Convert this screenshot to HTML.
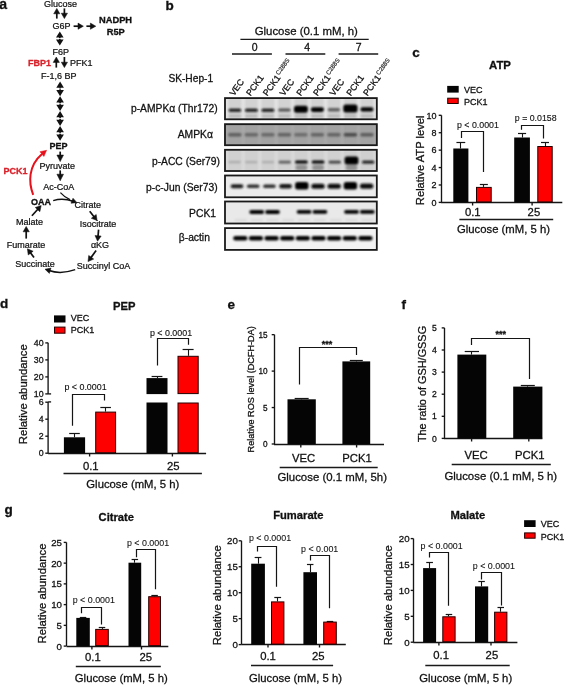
<!DOCTYPE html>
<html><head><meta charset="utf-8"><title>Figure</title>
<style>html,body{margin:0;padding:0;background:#fff;}svg{display:block;}
text{font-family:"Liberation Sans", Arial, sans-serif;}</style></head>
<body><svg width="565" height="685" viewBox="0 0 565 685">
<rect width="565" height="685" fill="#fff"/>
<defs><filter id="bl" x="-30%" y="-100%" width="160%" height="300%"><feGaussianBlur stdDeviation="0.85"/></filter><filter id="bl2" x="-50%" y="-100%" width="200%" height="300%"><feGaussianBlur stdDeviation="1.3"/></filter></defs>
<text x="-0.8" y="8.8" font-size="14" font-weight="bold" fill="#111" stroke="#111" stroke-width="0.3">a</text>
<text x="43.9" y="6.6" font-size="9" fill="#111" stroke="#111" stroke-width="0.22">Glucose</text>
<line x1="56.8" y1="18.6" x2="56.8" y2="12.72" stroke="#111" stroke-width="1.7"/>
<path d="M56.80,8.40 L59.90,13.80 L53.70,13.80 Z" fill="#111" stroke="#111" stroke-width="0.5" stroke-linejoin="round"/>
<line x1="64.4" y1="8.4" x2="64.4" y2="14.280000000000001" stroke="#111" stroke-width="1.7"/>
<path d="M64.40,18.60 L61.30,13.20 L67.50,13.20 Z" fill="#111" stroke="#111" stroke-width="0.5" stroke-linejoin="round"/>
<text x="52.4" y="28.7" font-size="9" fill="#111" stroke="#111" stroke-width="0.22">G6P</text>
<line x1="73.6" y1="26.2" x2="79.08000000000001" y2="26.2" stroke="#111" stroke-width="1.7"/>
<path d="M83.40,26.20 L78.00,29.30 L78.00,23.10 Z" fill="#111" stroke="#111" stroke-width="0.5" stroke-linejoin="round"/>
<line x1="86.4" y1="26.2" x2="91.47999999999999" y2="26.2" stroke="#111" stroke-width="1.7"/>
<path d="M95.80,26.20 L90.40,29.30 L90.40,23.10 Z" fill="#111" stroke="#111" stroke-width="0.5" stroke-linejoin="round"/>
<text x="99.0" y="23.4" font-size="9.3" font-weight="bold" fill="#111" stroke="#111" stroke-width="0.3">NADPH</text>
<text x="106.7" y="34.5" font-size="9.3" font-weight="bold" fill="#111" stroke="#111" stroke-width="0.3">R5P</text>
<path d="M59.8,31.6 L63.599999999999994,37.396 L56.0,37.396 Z" fill="#111"/>
<path d="M59.8,45.400000000000006 L63.599999999999994,39.604000000000006 L56.0,39.604000000000006 Z" fill="#111"/>
<line x1="59.8" y1="36.896" x2="59.8" y2="40.104000000000006" stroke="#111" stroke-width="1.6"/>
<line x1="56.0" y1="38.5" x2="63.599999999999994" y2="38.5" stroke="#fff" stroke-width="0.8"/>
<text x="52.4" y="54.5" font-size="9" fill="#111" stroke="#111" stroke-width="0.22">F6P</text>
<text x="51" y="66.4" font-size="9" font-weight="bold" text-anchor="end" fill="#d8232c" stroke="#d8232c" stroke-width="0.3">FBP1</text>
<line x1="56.3" y1="67.6" x2="56.3" y2="61.32" stroke="#111" stroke-width="1.7"/>
<path d="M56.30,57.00 L59.40,62.40 L53.20,62.40 Z" fill="#111" stroke="#111" stroke-width="0.5" stroke-linejoin="round"/>
<line x1="64.4" y1="57" x2="64.4" y2="63.279999999999994" stroke="#111" stroke-width="1.7"/>
<path d="M64.40,67.60 L61.30,62.20 L67.50,62.20 Z" fill="#111" stroke="#111" stroke-width="0.5" stroke-linejoin="round"/>
<text x="70" y="65.5" font-size="9" fill="#111" stroke="#111" stroke-width="0.22">PFK1</text>
<text x="40.9" y="79.3" font-size="9" fill="#111" stroke="#111" stroke-width="0.22">F-1,6 BP</text>
<path d="M60.1,81.4 L63.9,87.637 L56.300000000000004,87.637 Z" fill="#111"/>
<path d="M60.1,96.25 L63.9,90.013 L56.300000000000004,90.013 Z" fill="#111"/>
<line x1="60.1" y1="87.137" x2="60.1" y2="90.513" stroke="#111" stroke-width="1.6"/>
<line x1="56.300000000000004" y1="88.825" x2="63.9" y2="88.825" stroke="#fff" stroke-width="0.8"/>
<path d="M60.1,96.25 L63.9,102.487 L56.300000000000004,102.487 Z" fill="#111"/>
<path d="M60.1,111.1 L63.9,104.863 L56.300000000000004,104.863 Z" fill="#111"/>
<line x1="60.1" y1="101.987" x2="60.1" y2="105.363" stroke="#111" stroke-width="1.6"/>
<line x1="56.300000000000004" y1="103.675" x2="63.9" y2="103.675" stroke="#fff" stroke-width="0.8"/>
<path d="M60.1,111.10000000000001 L63.9,117.337 L56.300000000000004,117.337 Z" fill="#111"/>
<path d="M60.1,125.95 L63.9,119.71300000000001 L56.300000000000004,119.71300000000001 Z" fill="#111"/>
<line x1="60.1" y1="116.837" x2="60.1" y2="120.21300000000001" stroke="#111" stroke-width="1.6"/>
<line x1="56.300000000000004" y1="118.525" x2="63.9" y2="118.525" stroke="#fff" stroke-width="0.8"/>
<path d="M60.1,125.95 L63.9,132.187 L56.300000000000004,132.187 Z" fill="#111"/>
<path d="M60.1,140.8 L63.9,134.56300000000002 L56.300000000000004,134.56300000000002 Z" fill="#111"/>
<line x1="60.1" y1="131.687" x2="60.1" y2="135.06300000000002" stroke="#111" stroke-width="1.6"/>
<line x1="56.300000000000004" y1="133.375" x2="63.9" y2="133.375" stroke="#fff" stroke-width="0.8"/>
<text x="49.6" y="149.2" font-size="9" font-weight="bold" fill="#111" stroke="#111" stroke-width="0.3">PEP</text>
<line x1="60.2" y1="151.6" x2="60.2" y2="156.32" stroke="#111" stroke-width="1.7"/>
<path d="M60.20,161.60 L56.90,155.00 L63.50,155.00 Z" fill="#111" stroke="#111" stroke-width="0.5" stroke-linejoin="round"/>
<text x="39.6" y="168.6" font-size="9" fill="#111" stroke="#111" stroke-width="0.22">Pyruvate</text>
<line x1="60.2" y1="170.4" x2="60.2" y2="175.52" stroke="#111" stroke-width="1.7"/>
<path d="M60.20,180.80 L56.90,174.20 L63.50,174.20 Z" fill="#111" stroke="#111" stroke-width="0.5" stroke-linejoin="round"/>
<text x="43.2" y="189.6" font-size="9" fill="#111" stroke="#111" stroke-width="0.22">Ac-CoA</text>
<path d="M33.2,194.8 C28.5,183 28,166 42.0,154.0" stroke="#e8101a" stroke-width="2.0" fill="none"/>
<path d="M46.60,150.30 L43.89,156.48 L39.99,151.67 Z" fill="#e8101a" stroke="#e8101a" stroke-width="0.5" stroke-linejoin="round"/>
<text x="3.5" y="174.3" font-size="9" font-weight="bold" fill="#d8232c" stroke="#d8232c" stroke-width="0.3">PCK1</text>
<text x="30.9" y="204.8" font-size="9" font-weight="bold" fill="#111" stroke="#111" stroke-width="0.3">OAA</text>
<path d="M53.2,200.6 C59,198.8 66,198.8 73,201.2" stroke="#111" stroke-width="1.5" fill="none"/>
<path d="M77.00,202.70 L70.98,203.20 L72.99,198.19 Z" fill="#111" stroke="#111" stroke-width="0.5" stroke-linejoin="round"/>
<path d="M60.4,192.6 C63,195.5 66,198 70,199.6" stroke="#111" stroke-width="1.2" fill="none"/>
<text x="74.6" y="208.4" font-size="9" fill="#111" stroke="#111" stroke-width="0.22">Citrate</text>
<line x1="89.7" y1="211.2" x2="94.42782250064894" y2="217.2056123656892" stroke="#111" stroke-width="1.7"/>
<path d="M97.10,220.60 L91.32,218.27 L96.20,214.44 Z" fill="#111" stroke="#111" stroke-width="0.5" stroke-linejoin="round"/>
<text x="79.8" y="227.1" font-size="9" fill="#111" stroke="#111" stroke-width="0.22">Isocitrate</text>
<line x1="98.6" y1="229.6" x2="97.97103763810101" y2="236.89596339802824" stroke="#111" stroke-width="1.7"/>
<path d="M97.60,241.20 L94.98,235.55 L101.15,236.09 Z" fill="#111" stroke="#111" stroke-width="0.5" stroke-linejoin="round"/>
<text x="90.9" y="248.0" font-size="9" fill="#111" stroke="#111" stroke-width="0.22">αKG</text>
<line x1="96.1" y1="250.6" x2="90.56154098628643" y2="258.12136409269743" stroke="#111" stroke-width="1.7"/>
<path d="M88.00,261.60 L88.71,255.41 L93.70,259.09 Z" fill="#111" stroke="#111" stroke-width="0.5" stroke-linejoin="round"/>
<text x="76.7" y="268.6" font-size="9" fill="#111" stroke="#111" stroke-width="0.22">Succinyl CoA</text>
<path d="M75.2,269.6 C66,272.8 56,273 49,270.5" stroke="#111" stroke-width="1.5" fill="none"/>
<path d="M45.00,269.20 L50.98,268.07 L49.37,273.43 Z" fill="#111" stroke="#111" stroke-width="0.5" stroke-linejoin="round"/>
<text x="15.3" y="266.5" font-size="9" fill="#111" stroke="#111" stroke-width="0.22">Succinate</text>
<line x1="34.0" y1="257.4" x2="30.030097151800703" y2="252.22709628871002" stroke="#111" stroke-width="1.7"/>
<path d="M27.40,248.80 L33.15,251.20 L28.23,254.97 Z" fill="#111" stroke="#111" stroke-width="0.5" stroke-linejoin="round"/>
<text x="6.8" y="247.9" font-size="9" fill="#111" stroke="#111" stroke-width="0.22">Fumarate</text>
<line x1="26.2" y1="238.6" x2="26.2" y2="230.72" stroke="#111" stroke-width="1.7"/>
<path d="M26.20,226.40 L29.30,231.80 L23.10,231.80 Z" fill="#111" stroke="#111" stroke-width="0.5" stroke-linejoin="round"/>
<text x="15.9" y="224.8" font-size="9" fill="#111" stroke="#111" stroke-width="0.22">Malate</text>
<line x1="31.9" y1="215.8" x2="38.289383334797854" y2="208.79228924570558" stroke="#111" stroke-width="1.7"/>
<path d="M41.20,205.60 L39.85,211.68 L35.27,207.50 Z" fill="#111" stroke="#111" stroke-width="0.5" stroke-linejoin="round"/>
<text x="165.4" y="10.1" font-size="13.5" font-weight="bold" fill="#111" stroke="#111" stroke-width="0.3">b</text>
<text x="254.7" y="35.0" font-size="11.4" fill="#111" stroke="#111" stroke-width="0.28">Glucose (0.1 mM, h)</text>
<line x1="240.4" y1="39.4" x2="368.7" y2="39.4" stroke="#1a1a1a" stroke-width="1.4"/>
<text x="254.7" y="51.0" font-size="10.5" text-anchor="middle" fill="#111" stroke="#111" stroke-width="0.28">0</text>
<text x="307.2" y="51.0" font-size="10.5" text-anchor="middle" fill="#111" stroke="#111" stroke-width="0.28">4</text>
<text x="358.7" y="51.0" font-size="10.5" text-anchor="middle" fill="#111" stroke="#111" stroke-width="0.28">7</text>
<line x1="232.0" y1="54.0" x2="271.9" y2="54.0" stroke="#1a1a1a" stroke-width="1.4"/>
<line x1="285.5" y1="54.0" x2="325.3" y2="54.0" stroke="#1a1a1a" stroke-width="1.4"/>
<line x1="338.6" y1="54.0" x2="378.2" y2="54.0" stroke="#1a1a1a" stroke-width="1.4"/>
<text x="168.4" y="82.4" font-size="10.2" fill="#111" stroke="#111" stroke-width="0.28">SK-Hep-1</text>
<text transform="translate(233.90,96.4) rotate(-54)" font-size="8.8" fill="#111" stroke="#111" stroke-width="0.28">VEC</text>
<text transform="translate(250.60,96.4) rotate(-54)" font-size="8.8" fill="#111" stroke="#111" stroke-width="0.28">PCK1</text>
<text transform="translate(267.30,96.4) rotate(-54)" font-size="8.8" fill="#111" stroke="#111" stroke-width="0.28">PCK1<tspan font-size="6.2" dy="-3.0" dx="0.8" stroke-width="0.15">C288S</tspan></text>
<text transform="translate(284.00,96.4) rotate(-54)" font-size="8.8" fill="#111" stroke="#111" stroke-width="0.28">VEC</text>
<text transform="translate(300.70,96.4) rotate(-54)" font-size="8.8" fill="#111" stroke="#111" stroke-width="0.28">PCK1</text>
<text transform="translate(317.40,96.4) rotate(-54)" font-size="8.8" fill="#111" stroke="#111" stroke-width="0.28">PCK1<tspan font-size="6.2" dy="-3.0" dx="0.8" stroke-width="0.15">C288S</tspan></text>
<text transform="translate(334.10,96.4) rotate(-54)" font-size="8.8" fill="#111" stroke="#111" stroke-width="0.28">VEC</text>
<text transform="translate(350.80,96.4) rotate(-54)" font-size="8.8" fill="#111" stroke="#111" stroke-width="0.28">PCK1</text>
<text transform="translate(367.50,96.4) rotate(-54)" font-size="8.8" fill="#111" stroke="#111" stroke-width="0.28">PCK1<tspan font-size="6.2" dy="-3.0" dx="0.8" stroke-width="0.15">C288S</tspan></text>
<svg x="224.1" y="97.2" width="153.6" height="23.0" viewBox="224.1 97.2 153.6 23.0" overflow="hidden">
<rect x="224.10" y="97.20" width="153.60" height="23.00" fill="#d2d2d2"/>
<rect x="224.85" y="97.20" width="3.6" height="23.00" fill="#e8e8e8" opacity="0.8" filter="url(#bl2)"/>
<rect x="241.35" y="97.20" width="3.6" height="23.00" fill="#e8e8e8" opacity="0.8" filter="url(#bl2)"/>
<rect x="257.85" y="97.20" width="3.6" height="23.00" fill="#e8e8e8" opacity="0.8" filter="url(#bl2)"/>
<rect x="274.35" y="97.20" width="3.6" height="23.00" fill="#e8e8e8" opacity="0.8" filter="url(#bl2)"/>
<rect x="290.85" y="97.20" width="3.6" height="23.00" fill="#e8e8e8" opacity="0.8" filter="url(#bl2)"/>
<rect x="307.35" y="97.20" width="3.6" height="23.00" fill="#e8e8e8" opacity="0.8" filter="url(#bl2)"/>
<rect x="323.85" y="97.20" width="3.6" height="23.00" fill="#e8e8e8" opacity="0.8" filter="url(#bl2)"/>
<rect x="340.35" y="97.20" width="3.6" height="23.00" fill="#e8e8e8" opacity="0.8" filter="url(#bl2)"/>
<rect x="356.85" y="97.20" width="3.6" height="23.00" fill="#e8e8e8" opacity="0.8" filter="url(#bl2)"/>
<rect x="373.35" y="97.20" width="3.6" height="23.00" fill="#e8e8e8" opacity="0.8" filter="url(#bl2)"/>
<rect x="228.90" y="115.00" width="12.00" height="2.00" rx="1.00" fill="rgb(175,175,175)" filter="url(#bl)"/>
<rect x="245.40" y="115.00" width="12.00" height="2.00" rx="1.00" fill="rgb(175,175,175)" filter="url(#bl)"/>
<rect x="261.90" y="115.00" width="12.00" height="2.00" rx="1.00" fill="rgb(175,175,175)" filter="url(#bl)"/>
<rect x="278.40" y="115.00" width="12.00" height="2.00" rx="1.00" fill="rgb(175,175,175)" filter="url(#bl)"/>
<rect x="294.90" y="115.00" width="12.00" height="2.00" rx="1.00" fill="rgb(175,175,175)" filter="url(#bl)"/>
<rect x="311.40" y="115.00" width="12.00" height="2.00" rx="1.00" fill="rgb(175,175,175)" filter="url(#bl)"/>
<rect x="327.90" y="115.00" width="12.00" height="2.00" rx="1.00" fill="rgb(175,175,175)" filter="url(#bl)"/>
<rect x="344.40" y="115.00" width="12.00" height="2.00" rx="1.00" fill="rgb(175,175,175)" filter="url(#bl)"/>
<rect x="360.90" y="115.00" width="12.00" height="2.00" rx="1.00" fill="rgb(175,175,175)" filter="url(#bl)"/>
<rect x="228.70" y="108.80" width="12.40" height="3.00" rx="1.50" fill="rgb(15,15,15)" filter="url(#bl)"/>
<rect x="245.00" y="108.70" width="12.80" height="3.00" rx="1.50" fill="rgb(10,10,10)" filter="url(#bl)"/>
<rect x="261.50" y="108.70" width="12.80" height="3.00" rx="1.50" fill="rgb(15,15,15)" filter="url(#bl)"/>
<rect x="278.20" y="108.40" width="12.40" height="3.20" rx="1.60" fill="rgb(80,80,80)" filter="url(#bl)"/>
<rect x="294.00" y="105.70" width="13.80" height="7.00" rx="2.50" fill="rgb(0,0,0)" filter="url(#bl)"/>
<rect x="310.80" y="107.30" width="13.20" height="4.60" rx="2.30" fill="rgb(0,0,0)" filter="url(#bl)"/>
<rect x="327.70" y="108.10" width="12.40" height="3.40" rx="1.70" fill="rgb(95,95,95)" filter="url(#bl)"/>
<rect x="343.30" y="104.40" width="14.20" height="8.00" rx="2.50" fill="rgb(0,0,0)" filter="url(#bl)"/>
<rect x="360.40" y="107.30" width="13.00" height="4.20" rx="2.10" fill="rgb(5,5,5)" filter="url(#bl)"/>
</svg>
<rect x="225.00" y="98.10" width="151.80" height="21.20" fill="none" stroke="#1a1a1a" stroke-width="1.8"/>
<text x="217.6" y="112.2" font-size="10.3" text-anchor="end" fill="#111" stroke="#111" stroke-width="0.28">p-AMPKα (Thr172)</text>
<svg x="224.1" y="123.3" width="153.6" height="22.8" viewBox="224.1 123.3 153.6 22.8" overflow="hidden">
<rect x="224.10" y="123.30" width="153.60" height="22.80" fill="#a2a2a2"/>
<rect x="224.85" y="123.30" width="3.6" height="22.80" fill="#acacac" opacity="0.6" filter="url(#bl2)"/>
<rect x="241.35" y="123.30" width="3.6" height="22.80" fill="#acacac" opacity="0.6" filter="url(#bl2)"/>
<rect x="257.85" y="123.30" width="3.6" height="22.80" fill="#acacac" opacity="0.6" filter="url(#bl2)"/>
<rect x="274.35" y="123.30" width="3.6" height="22.80" fill="#acacac" opacity="0.6" filter="url(#bl2)"/>
<rect x="290.85" y="123.30" width="3.6" height="22.80" fill="#acacac" opacity="0.6" filter="url(#bl2)"/>
<rect x="307.35" y="123.30" width="3.6" height="22.80" fill="#acacac" opacity="0.6" filter="url(#bl2)"/>
<rect x="323.85" y="123.30" width="3.6" height="22.80" fill="#acacac" opacity="0.6" filter="url(#bl2)"/>
<rect x="340.35" y="123.30" width="3.6" height="22.80" fill="#acacac" opacity="0.6" filter="url(#bl2)"/>
<rect x="356.85" y="123.30" width="3.6" height="22.80" fill="#acacac" opacity="0.6" filter="url(#bl2)"/>
<rect x="373.35" y="123.30" width="3.6" height="22.80" fill="#acacac" opacity="0.6" filter="url(#bl2)"/>
<rect x="228.15" y="133.10" width="13.50" height="3.40" rx="1.70" fill="rgb(95,95,95)" filter="url(#bl)"/>
<rect x="244.65" y="133.10" width="13.50" height="3.40" rx="1.70" fill="rgb(102,102,102)" filter="url(#bl)"/>
<rect x="261.15" y="133.10" width="13.50" height="3.40" rx="1.70" fill="rgb(104,104,104)" filter="url(#bl)"/>
<rect x="277.65" y="133.10" width="13.50" height="3.40" rx="1.70" fill="rgb(98,98,98)" filter="url(#bl)"/>
<rect x="294.15" y="133.10" width="13.50" height="3.40" rx="1.70" fill="rgb(108,108,108)" filter="url(#bl)"/>
<rect x="310.65" y="133.10" width="13.50" height="3.40" rx="1.70" fill="rgb(100,100,100)" filter="url(#bl)"/>
<rect x="327.15" y="133.10" width="13.50" height="3.40" rx="1.70" fill="rgb(98,98,98)" filter="url(#bl)"/>
<rect x="343.65" y="133.10" width="13.50" height="3.40" rx="1.70" fill="rgb(72,72,72)" filter="url(#bl)"/>
<rect x="360.15" y="133.10" width="13.50" height="3.40" rx="1.70" fill="rgb(92,92,92)" filter="url(#bl)"/>
</svg>
<rect x="225.00" y="124.20" width="151.80" height="21.00" fill="none" stroke="#1a1a1a" stroke-width="1.8"/>
<text x="212.9" y="137.8" font-size="10.3" text-anchor="end" fill="#111" stroke="#111" stroke-width="0.28">AMPKα</text>
<svg x="224.1" y="148.9" width="153.6" height="23.0" viewBox="224.1 148.9 153.6 23.0" overflow="hidden">
<rect x="224.10" y="148.90" width="153.60" height="23.00" fill="#d0d0d0"/>
<rect x="224.85" y="148.90" width="3.6" height="23.00" fill="#dddddd" opacity="0.7" filter="url(#bl2)"/>
<rect x="241.35" y="148.90" width="3.6" height="23.00" fill="#dddddd" opacity="0.7" filter="url(#bl2)"/>
<rect x="257.85" y="148.90" width="3.6" height="23.00" fill="#dddddd" opacity="0.7" filter="url(#bl2)"/>
<rect x="274.35" y="148.90" width="3.6" height="23.00" fill="#dddddd" opacity="0.7" filter="url(#bl2)"/>
<rect x="290.85" y="148.90" width="3.6" height="23.00" fill="#dddddd" opacity="0.7" filter="url(#bl2)"/>
<rect x="307.35" y="148.90" width="3.6" height="23.00" fill="#dddddd" opacity="0.7" filter="url(#bl2)"/>
<rect x="323.85" y="148.90" width="3.6" height="23.00" fill="#dddddd" opacity="0.7" filter="url(#bl2)"/>
<rect x="340.35" y="148.90" width="3.6" height="23.00" fill="#dddddd" opacity="0.7" filter="url(#bl2)"/>
<rect x="356.85" y="148.90" width="3.6" height="23.00" fill="#dddddd" opacity="0.7" filter="url(#bl2)"/>
<rect x="373.35" y="148.90" width="3.6" height="23.00" fill="#dddddd" opacity="0.7" filter="url(#bl2)"/>
<rect x="295.65" y="164.75" width="11.50" height="5.50" rx="2.50" fill="rgb(145,145,145)" filter="url(#bl2)"/>
<rect x="312.35" y="164.75" width="11.50" height="5.50" rx="2.50" fill="rgb(145,145,145)" filter="url(#bl2)"/>
<rect x="345.75" y="164.75" width="11.50" height="5.50" rx="2.50" fill="rgb(145,145,145)" filter="url(#bl2)"/>
<rect x="228.50" y="161.10" width="12.20" height="2.20" rx="1.10" fill="rgb(170,170,170)" filter="url(#bl)"/>
<rect x="245.20" y="161.10" width="12.20" height="2.20" rx="1.10" fill="rgb(172,172,172)" filter="url(#bl)"/>
<rect x="261.90" y="161.10" width="12.20" height="2.20" rx="1.10" fill="rgb(172,172,172)" filter="url(#bl)"/>
<rect x="278.60" y="160.80" width="12.20" height="2.80" rx="1.40" fill="rgb(90,90,90)" filter="url(#bl)"/>
<rect x="295.00" y="160.40" width="12.80" height="3.20" rx="1.60" fill="rgb(0,0,0)" filter="url(#bl)"/>
<rect x="311.70" y="160.40" width="12.80" height="3.20" rx="1.60" fill="rgb(5,5,5)" filter="url(#bl)"/>
<rect x="328.70" y="160.80" width="12.20" height="2.80" rx="1.40" fill="rgb(60,60,60)" filter="url(#bl)"/>
<rect x="344.60" y="156.60" width="13.80" height="8.00" rx="2.50" fill="rgb(0,0,0)" filter="url(#bl)"/>
<rect x="362.10" y="160.80" width="12.20" height="2.80" rx="1.40" fill="rgb(15,15,15)" filter="url(#bl)"/>
</svg>
<rect x="225.00" y="149.80" width="151.80" height="21.20" fill="none" stroke="#1a1a1a" stroke-width="1.8"/>
<text x="220.0" y="164.6" font-size="10.3" text-anchor="end" fill="#111" stroke="#111" stroke-width="0.28">p-ACC (Ser79)</text>
<svg x="224.1" y="174.6" width="153.6" height="23.6" viewBox="224.1 174.6 153.6 23.6" overflow="hidden">
<rect x="224.10" y="174.60" width="153.60" height="23.60" fill="#ececec"/>
<rect x="230.70" y="184.20" width="12.60" height="4.00" rx="2.00" fill="rgb(30,30,30)" filter="url(#bl)"/>
<rect x="246.90" y="184.40" width="12.60" height="3.60" rx="1.80" fill="rgb(45,45,45)" filter="url(#bl)"/>
<rect x="263.10" y="184.40" width="12.60" height="3.60" rx="1.80" fill="rgb(45,45,45)" filter="url(#bl)"/>
<rect x="279.30" y="183.90" width="12.60" height="4.60" rx="2.30" fill="rgb(20,20,20)" filter="url(#bl)"/>
<rect x="295.10" y="182.10" width="13.40" height="7.40" rx="2.50" fill="rgb(0,0,0)" filter="url(#bl)"/>
<rect x="311.30" y="183.70" width="13.40" height="5.00" rx="2.50" fill="rgb(15,15,15)" filter="url(#bl)"/>
<rect x="327.50" y="183.70" width="13.40" height="5.00" rx="2.50" fill="rgb(15,15,15)" filter="url(#bl)"/>
<rect x="343.70" y="182.10" width="13.40" height="7.40" rx="2.50" fill="rgb(0,0,0)" filter="url(#bl)"/>
<rect x="359.90" y="183.60" width="13.40" height="5.20" rx="2.50" fill="rgb(15,15,15)" filter="url(#bl)"/>
</svg>
<rect x="225.00" y="175.50" width="151.80" height="21.80" fill="none" stroke="#1a1a1a" stroke-width="1.8"/>
<text x="217.6" y="190.8" font-size="10.3" text-anchor="end" fill="#111" stroke="#111" stroke-width="0.28">p-c-Jun (Ser73)</text>
<svg x="224.1" y="200.6" width="153.6" height="23.8" viewBox="224.1 200.6 153.6 23.8" overflow="hidden">
<rect x="224.10" y="200.60" width="153.60" height="23.80" fill="#e9e9e9"/>
<rect x="234.65" y="219.20" width="12.50" height="1.60" rx="0.80" fill="rgb(212,212,212)" filter="url(#bl)"/>
<rect x="250.45" y="219.20" width="12.50" height="1.60" rx="0.80" fill="rgb(212,212,212)" filter="url(#bl)"/>
<rect x="266.25" y="219.20" width="12.50" height="1.60" rx="0.80" fill="rgb(212,212,212)" filter="url(#bl)"/>
<rect x="282.05" y="219.20" width="12.50" height="1.60" rx="0.80" fill="rgb(212,212,212)" filter="url(#bl)"/>
<rect x="297.85" y="219.20" width="12.50" height="1.60" rx="0.80" fill="rgb(212,212,212)" filter="url(#bl)"/>
<rect x="313.65" y="219.20" width="12.50" height="1.60" rx="0.80" fill="rgb(212,212,212)" filter="url(#bl)"/>
<rect x="329.45" y="219.20" width="12.50" height="1.60" rx="0.80" fill="rgb(212,212,212)" filter="url(#bl)"/>
<rect x="345.25" y="219.20" width="12.50" height="1.60" rx="0.80" fill="rgb(212,212,212)" filter="url(#bl)"/>
<rect x="361.05" y="219.20" width="12.50" height="1.60" rx="0.80" fill="rgb(212,212,212)" filter="url(#bl)"/>
<rect x="249.30" y="209.90" width="14.80" height="4.00" rx="2.00" fill="rgb(0,0,0)" filter="url(#bl)"/>
<rect x="265.10" y="209.90" width="14.80" height="4.00" rx="2.00" fill="rgb(0,0,0)" filter="url(#bl)"/>
<rect x="296.70" y="210.10" width="14.80" height="3.60" rx="1.80" fill="rgb(0,0,0)" filter="url(#bl)"/>
<rect x="312.50" y="210.10" width="14.80" height="3.60" rx="1.80" fill="rgb(0,0,0)" filter="url(#bl)"/>
<rect x="344.10" y="210.10" width="14.80" height="3.60" rx="1.80" fill="rgb(0,0,0)" filter="url(#bl)"/>
<rect x="359.90" y="210.10" width="14.80" height="3.60" rx="1.80" fill="rgb(0,0,0)" filter="url(#bl)"/>
</svg>
<rect x="225.00" y="201.50" width="151.80" height="22.00" fill="none" stroke="#1a1a1a" stroke-width="1.8"/>
<text x="216.0" y="216.5" font-size="10.3" text-anchor="end" fill="#111" stroke="#111" stroke-width="0.28">PCK1</text>
<svg x="224.1" y="227.2" width="153.6" height="23.6" viewBox="224.1 227.2 153.6 23.6" overflow="hidden">
<rect x="224.10" y="227.20" width="153.60" height="23.60" fill="#f3f3f3"/>
<rect x="233.20" y="236.00" width="14.20" height="4.60" rx="2.30" fill="rgb(0,0,0)" filter="url(#bl)"/>
<rect x="248.84" y="236.00" width="14.20" height="4.60" rx="2.30" fill="rgb(0,0,0)" filter="url(#bl)"/>
<rect x="264.48" y="236.00" width="14.20" height="4.60" rx="2.30" fill="rgb(0,0,0)" filter="url(#bl)"/>
<rect x="280.12" y="236.00" width="14.20" height="4.60" rx="2.30" fill="rgb(0,0,0)" filter="url(#bl)"/>
<rect x="295.76" y="236.00" width="14.20" height="4.60" rx="2.30" fill="rgb(0,0,0)" filter="url(#bl)"/>
<rect x="311.40" y="236.00" width="14.20" height="4.60" rx="2.30" fill="rgb(0,0,0)" filter="url(#bl)"/>
<rect x="327.04" y="236.00" width="14.20" height="4.60" rx="2.30" fill="rgb(0,0,0)" filter="url(#bl)"/>
<rect x="342.68" y="236.00" width="14.20" height="4.60" rx="2.30" fill="rgb(0,0,0)" filter="url(#bl)"/>
<rect x="358.32" y="236.00" width="14.20" height="4.60" rx="2.30" fill="rgb(0,0,0)" filter="url(#bl)"/>
</svg>
<rect x="225.00" y="228.10" width="151.80" height="21.80" fill="none" stroke="#1a1a1a" stroke-width="1.8"/>
<text x="209.9" y="241.0" font-size="10.3" text-anchor="end" fill="#111" stroke="#111" stroke-width="0.28">β-actin</text>
<text x="412.2" y="56.7" font-size="13.5" font-weight="bold" fill="#111" stroke="#111" stroke-width="0.3">c</text>
<text x="500.0" y="68.6" font-size="11.4" font-weight="bold" text-anchor="middle" fill="#111" stroke="#111" stroke-width="0.3">ATP</text>
<rect x="447.20" y="85.90" width="11.50" height="6.70" fill="#050505"/>
<rect x="447.70" y="98.20" width="10.50" height="5.30" fill="#ff0000" stroke="#260000" stroke-width="1.0"/>
<text x="464.0" y="92.9" font-size="9" fill="#111" stroke="#111" stroke-width="0.28">VEC</text>
<text x="464.0" y="105.0" font-size="9" fill="#111" stroke="#111" stroke-width="0.28">PCK1</text>
<line x1="441.5" y1="115.3" x2="441.5" y2="202.4" stroke="#151515" stroke-width="1.35"/>
<line x1="438.7" y1="202.4" x2="441.5" y2="202.4" stroke="#151515" stroke-width="1.35"/>
<text x="436.6" y="205.64" font-size="9" text-anchor="end" fill="#111" stroke="#111" stroke-width="0.28">0</text>
<line x1="438.7" y1="184.98000000000002" x2="441.5" y2="184.98000000000002" stroke="#151515" stroke-width="1.35"/>
<text x="436.6" y="188.22" font-size="9" text-anchor="end" fill="#111" stroke="#111" stroke-width="0.28">2</text>
<line x1="438.7" y1="167.56" x2="441.5" y2="167.56" stroke="#151515" stroke-width="1.35"/>
<text x="436.6" y="170.8" font-size="9" text-anchor="end" fill="#111" stroke="#111" stroke-width="0.28">4</text>
<line x1="438.7" y1="150.14" x2="441.5" y2="150.14" stroke="#151515" stroke-width="1.35"/>
<text x="436.6" y="153.38" font-size="9" text-anchor="end" fill="#111" stroke="#111" stroke-width="0.28">6</text>
<line x1="438.7" y1="132.72" x2="441.5" y2="132.72" stroke="#151515" stroke-width="1.35"/>
<text x="436.6" y="135.96" font-size="9" text-anchor="end" fill="#111" stroke="#111" stroke-width="0.28">8</text>
<line x1="438.7" y1="115.3" x2="441.5" y2="115.3" stroke="#151515" stroke-width="1.35"/>
<text x="436.6" y="118.54" font-size="9" text-anchor="end" fill="#111" stroke="#111" stroke-width="0.28">10</text>
<line x1="441.1" y1="202.5" x2="562.3" y2="202.5" stroke="#151515" stroke-width="1.35"/>
<line x1="472.6" y1="202.5" x2="472.6" y2="205.5" stroke="#151515" stroke-width="1.35"/>
<line x1="532.1" y1="202.5" x2="532.1" y2="205.5" stroke="#151515" stroke-width="1.35"/>
<line x1="460.5" y1="142.3" x2="460.5" y2="148.5" stroke="#151515" stroke-width="1.1"/>
<line x1="456.45000000000005" y1="142.5" x2="465.25" y2="142.5" stroke="#151515" stroke-width="1.2"/>
<rect x="453.30" y="148.50" width="15.10" height="53.90" fill="#050505"/>
<line x1="483.5" y1="184.4" x2="483.5" y2="186.9" stroke="#151515" stroke-width="1.1"/>
<line x1="479.85" y1="184.5" x2="487.85" y2="184.5" stroke="#151515" stroke-width="1.2"/>
<rect x="476.50" y="187.40" width="14.70" height="14.50" fill="#ff0000" stroke="#260000" stroke-width="1.0"/>
<line x1="522.5" y1="133.3" x2="522.5" y2="137.5" stroke="#151515" stroke-width="1.1"/>
<line x1="518.0" y1="133.5" x2="526.0999999999999" y2="133.5" stroke="#151515" stroke-width="1.2"/>
<rect x="514.20" y="137.50" width="15.70" height="64.90" fill="#050505"/>
<line x1="545.5" y1="142.5" x2="545.5" y2="146.0" stroke="#151515" stroke-width="1.1"/>
<line x1="541.0" y1="142.5" x2="549.0" y2="142.5" stroke="#151515" stroke-width="1.2"/>
<rect x="537.80" y="146.50" width="14.40" height="55.40" fill="#ff0000" stroke="#260000" stroke-width="1.0"/>
<path d="M461.5,137.9 V131.5 H483.5 V172.1" stroke="#151515" stroke-width="1.2" fill="none"/>
<path d="M521.5,129.8 V125.5 H543.5 V138.4" stroke="#151515" stroke-width="1.2" fill="none"/>
<text x="457.0" y="128.0" font-size="8.8" fill="#111" stroke="#111" stroke-width="0.12">p &lt; 0.0001</text>
<text x="514.8" y="121.4" font-size="8.8" fill="#111" stroke="#111" stroke-width="0.12">p = 0.0158</text>
<text x="472.8" y="216.1" font-size="11.3" text-anchor="middle" fill="#111" stroke="#111" stroke-width="0.28">0.1</text>
<text x="533.9" y="216.1" font-size="11.3" text-anchor="middle" fill="#111" stroke="#111" stroke-width="0.28">25</text>
<line x1="459.4" y1="219.5" x2="553.2" y2="219.5" stroke="#1a1a1a" stroke-width="1.3"/>
<text x="503.5" y="232.6" font-size="11.3" text-anchor="middle" fill="#111" stroke="#111" stroke-width="0.28">Glucose (mM, 5 h)</text>
<text transform="translate(423.6,160.3) rotate(-90)" x="0" y="0" font-size="11.2" text-anchor="middle" fill="#111" stroke="#111" stroke-width="0.28">Relative ATP level</text>
<text x="0" y="308.4" font-size="13.5" font-weight="bold" fill="#111" stroke="#111" stroke-width="0.3">d</text>
<text x="124.3" y="309.9" font-size="11.2" font-weight="bold" text-anchor="middle" fill="#111" stroke="#111" stroke-width="0.3">PEP</text>
<rect x="54.00" y="315.40" width="11.50" height="7.10" fill="#050505"/>
<rect x="54.50" y="327.10" width="10.50" height="6.10" fill="#ff0000" stroke="#260000" stroke-width="1.0"/>
<text x="70.8" y="320.9" font-size="9" fill="#111" stroke="#111" stroke-width="0.28">VEC</text>
<text x="70.8" y="333.3" font-size="9" fill="#111" stroke="#111" stroke-width="0.28">PCK1</text>
<line x1="48.1" y1="342.7" x2="48.1" y2="393.9" stroke="#151515" stroke-width="1.35"/>
<line x1="45.300000000000004" y1="342.9" x2="48.1" y2="342.9" stroke="#151515" stroke-width="1.35"/>
<text x="43.6" y="346.1" font-size="8.8" text-anchor="end" fill="#111" stroke="#111" stroke-width="0.28">40</text>
<line x1="45.300000000000004" y1="359.9" x2="48.1" y2="359.9" stroke="#151515" stroke-width="1.35"/>
<text x="43.6" y="363.1" font-size="8.8" text-anchor="end" fill="#111" stroke="#111" stroke-width="0.28">30</text>
<line x1="45.300000000000004" y1="376.9" x2="48.1" y2="376.9" stroke="#151515" stroke-width="1.35"/>
<text x="43.6" y="380.1" font-size="8.8" text-anchor="end" fill="#111" stroke="#111" stroke-width="0.28">20</text>
<line x1="45.300000000000004" y1="393.9" x2="48.1" y2="393.9" stroke="#151515" stroke-width="1.35"/>
<text x="43.6" y="397.1" font-size="8.8" text-anchor="end" fill="#111" stroke="#111" stroke-width="0.28">10</text>
<line x1="48.1" y1="393.9" x2="51.1" y2="393.9" stroke="#151515" stroke-width="1.35"/>
<line x1="48.1" y1="401.9" x2="48.1" y2="453.2" stroke="#151515" stroke-width="1.35"/>
<line x1="45.300000000000004" y1="453.2" x2="48.1" y2="453.2" stroke="#151515" stroke-width="1.35"/>
<text x="43.6" y="456.4" font-size="8.8" text-anchor="end" fill="#111" stroke="#111" stroke-width="0.28">0</text>
<line x1="45.300000000000004" y1="436.2" x2="48.1" y2="436.2" stroke="#151515" stroke-width="1.35"/>
<text x="43.6" y="439.4" font-size="8.8" text-anchor="end" fill="#111" stroke="#111" stroke-width="0.28">2</text>
<line x1="45.300000000000004" y1="419.2" x2="48.1" y2="419.2" stroke="#151515" stroke-width="1.35"/>
<text x="43.6" y="422.4" font-size="8.8" text-anchor="end" fill="#111" stroke="#111" stroke-width="0.28">4</text>
<line x1="45.300000000000004" y1="402.2" x2="48.1" y2="402.2" stroke="#151515" stroke-width="1.35"/>
<text x="43.6" y="405.4" font-size="8.8" text-anchor="end" fill="#111" stroke="#111" stroke-width="0.28">6</text>
<line x1="48.1" y1="401.9" x2="51.1" y2="401.9" stroke="#151515" stroke-width="1.35"/>
<line x1="48.1" y1="453.5" x2="206.1" y2="453.5" stroke="#151515" stroke-width="1.35"/>
<line x1="89.6" y1="453.5" x2="89.6" y2="456.5" stroke="#151515" stroke-width="1.35"/>
<line x1="172.4" y1="453.5" x2="172.4" y2="456.5" stroke="#151515" stroke-width="1.35"/>
<line x1="74.5" y1="433.7" x2="74.5" y2="437.3" stroke="#151515" stroke-width="1.1"/>
<line x1="69.2" y1="433.5" x2="79.8" y2="433.5" stroke="#151515" stroke-width="1.2"/>
<rect x="63.90" y="437.30" width="21.20" height="15.90" fill="#050505"/>
<line x1="105.5" y1="407.2" x2="105.5" y2="411.6" stroke="#151515" stroke-width="1.1"/>
<line x1="100.35000000000001" y1="407.5" x2="110.95" y2="407.5" stroke="#151515" stroke-width="1.2"/>
<rect x="95.70" y="412.10" width="19.90" height="40.60" fill="#ff0000" stroke="#260000" stroke-width="1.0"/>
<rect x="146.50" y="402.50" width="21.00" height="50.70" fill="#050505"/>
<line x1="157.5" y1="376.2" x2="157.5" y2="378.1" stroke="#151515" stroke-width="1.1"/>
<line x1="151.6" y1="376.5" x2="162.4" y2="376.5" stroke="#151515" stroke-width="1.2"/>
<rect x="146.50" y="378.10" width="21.00" height="16.00" fill="#050505"/>
<rect x="178.00" y="403.00" width="20.20" height="49.70" fill="#ff0000" stroke="#260000" stroke-width="1.0"/>
<line x1="188.5" y1="349.5" x2="188.5" y2="355.8" stroke="#151515" stroke-width="1.1"/>
<line x1="182.6" y1="349.5" x2="193.6" y2="349.5" stroke="#151515" stroke-width="1.2"/>
<rect x="178.00" y="356.30" width="20.20" height="37.30" fill="#ff0000" stroke="#260000" stroke-width="1.0"/>
<path d="M72.5,425.8 V394.5 H104.5 V400.4" stroke="#151515" stroke-width="1.2" fill="none"/>
<path d="M157.5,365.4 V338.5 H188.5 V344.7" stroke="#151515" stroke-width="1.2" fill="none"/>
<text x="64.4" y="390.4" font-size="8.9" fill="#111" stroke="#111" stroke-width="0.12">p &lt; 0.0001</text>
<text x="149.9" y="335.9" font-size="8.9" fill="#111" stroke="#111" stroke-width="0.12">p &lt; 0.0001</text>
<text x="90.8" y="470.0" font-size="11.3" text-anchor="middle" fill="#111" stroke="#111" stroke-width="0.28">0.1</text>
<text x="173.2" y="470.0" font-size="11.3" text-anchor="middle" fill="#111" stroke="#111" stroke-width="0.28">25</text>
<line x1="63.5" y1="473.5" x2="201.9" y2="473.5" stroke="#1a1a1a" stroke-width="1.3"/>
<text x="132.8" y="487.8" font-size="11.3" text-anchor="middle" fill="#111" stroke="#111" stroke-width="0.28">Glucose (mM, 5 h)</text>
<text transform="translate(27.2,394.2) rotate(-90)" x="0" y="0" font-size="11.3" text-anchor="middle" fill="#111" stroke="#111" stroke-width="0.28">Relative abundance</text>
<text x="227.4" y="308.5" font-size="13.5" font-weight="bold" fill="#111" stroke="#111" stroke-width="0.3">e</text>
<line x1="274.5" y1="334.65" x2="274.5" y2="444.0" stroke="#151515" stroke-width="1.35"/>
<line x1="271.7" y1="444.0" x2="274.5" y2="444.0" stroke="#151515" stroke-width="1.35"/>
<text x="267.6" y="446.95" font-size="8.2" text-anchor="end" fill="#111" stroke="#111" stroke-width="0.28">0</text>
<line x1="271.7" y1="407.55" x2="274.5" y2="407.55" stroke="#151515" stroke-width="1.35"/>
<text x="267.6" y="410.5" font-size="8.2" text-anchor="end" fill="#111" stroke="#111" stroke-width="0.28">5</text>
<line x1="271.7" y1="371.1" x2="274.5" y2="371.1" stroke="#151515" stroke-width="1.35"/>
<text x="267.6" y="374.05" font-size="8.2" text-anchor="end" fill="#111" stroke="#111" stroke-width="0.28">10</text>
<line x1="271.7" y1="334.65" x2="274.5" y2="334.65" stroke="#151515" stroke-width="1.35"/>
<text x="267.6" y="337.6" font-size="8.2" text-anchor="end" fill="#111" stroke="#111" stroke-width="0.28">15</text>
<line x1="274.0" y1="444.5" x2="384.0" y2="444.5" stroke="#151515" stroke-width="1.35"/>
<line x1="300.8" y1="444.5" x2="300.8" y2="447.5" stroke="#151515" stroke-width="1.35"/>
<line x1="356.6" y1="444.5" x2="356.6" y2="447.5" stroke="#151515" stroke-width="1.35"/>
<line x1="301.5" y1="398.2" x2="301.5" y2="399.3" stroke="#151515" stroke-width="1.1"/>
<line x1="294.65" y1="398.5" x2="308.65" y2="398.5" stroke="#151515" stroke-width="1.2"/>
<rect x="287.50" y="399.30" width="28.30" height="44.70" fill="#050505"/>
<line x1="356.5" y1="360.0" x2="356.5" y2="361.4" stroke="#151515" stroke-width="1.1"/>
<line x1="349.79999999999995" y1="360.5" x2="362.79999999999995" y2="360.5" stroke="#151515" stroke-width="1.2"/>
<rect x="342.40" y="361.40" width="27.80" height="82.60" fill="#050505"/>
<path d="M299.5,384.6 V347.5 H356.5 V355.0" stroke="#151515" stroke-width="1.2" fill="none"/>
<text x="327.1" y="346.5" font-size="9" font-weight="bold" text-anchor="middle" fill="#111" stroke="#111" stroke-width="0.3">***</text>
<text x="303.6" y="461.6" font-size="11.3" text-anchor="middle" fill="#111" stroke="#111" stroke-width="0.28">VEC</text>
<text x="357.0" y="461.6" font-size="11.3" text-anchor="middle" fill="#111" stroke="#111" stroke-width="0.28">PCK1</text>
<line x1="279.7" y1="467.5" x2="377.7" y2="467.5" stroke="#1a1a1a" stroke-width="1.3"/>
<text x="332.2" y="481.2" font-size="11.4" text-anchor="middle" fill="#111" stroke="#111" stroke-width="0.28">Glucose (0.1 mM, 5h)</text>
<text transform="translate(254.3,389.3) rotate(-90)" x="0" y="0" font-size="9.15" text-anchor="middle" fill="#111" stroke="#111" stroke-width="0.28">Relative ROS level (DCFH-DA)</text>
<text x="401.4" y="308.5" font-size="13.5" font-weight="bold" fill="#111" stroke="#111" stroke-width="0.3">f</text>
<line x1="444.5" y1="327.9" x2="444.5" y2="438.4" stroke="#151515" stroke-width="1.35"/>
<line x1="441.7" y1="438.4" x2="444.5" y2="438.4" stroke="#151515" stroke-width="1.35"/>
<text x="436.7" y="441.5" font-size="8.6" text-anchor="end" fill="#111" stroke="#111" stroke-width="0.28">0</text>
<line x1="441.7" y1="416.29999999999995" x2="444.5" y2="416.29999999999995" stroke="#151515" stroke-width="1.35"/>
<text x="436.7" y="419.4" font-size="8.6" text-anchor="end" fill="#111" stroke="#111" stroke-width="0.28">1</text>
<line x1="441.7" y1="394.2" x2="444.5" y2="394.2" stroke="#151515" stroke-width="1.35"/>
<text x="436.7" y="397.3" font-size="8.6" text-anchor="end" fill="#111" stroke="#111" stroke-width="0.28">2</text>
<line x1="441.7" y1="372.09999999999997" x2="444.5" y2="372.09999999999997" stroke="#151515" stroke-width="1.35"/>
<text x="436.7" y="375.2" font-size="8.6" text-anchor="end" fill="#111" stroke="#111" stroke-width="0.28">3</text>
<line x1="441.7" y1="350.0" x2="444.5" y2="350.0" stroke="#151515" stroke-width="1.35"/>
<text x="436.7" y="353.1" font-size="8.6" text-anchor="end" fill="#111" stroke="#111" stroke-width="0.28">4</text>
<line x1="441.7" y1="327.9" x2="444.5" y2="327.9" stroke="#151515" stroke-width="1.35"/>
<text x="436.7" y="331.0" font-size="8.6" text-anchor="end" fill="#111" stroke="#111" stroke-width="0.28">5</text>
<line x1="444.0" y1="438.5" x2="542.4" y2="438.5" stroke="#151515" stroke-width="1.35"/>
<line x1="471.6" y1="438.5" x2="471.6" y2="441.5" stroke="#151515" stroke-width="1.35"/>
<line x1="528.8" y1="438.5" x2="528.8" y2="441.5" stroke="#151515" stroke-width="1.35"/>
<line x1="471.5" y1="351.9" x2="471.5" y2="354.6" stroke="#151515" stroke-width="1.1"/>
<line x1="464.70000000000005" y1="351.5" x2="479.0" y2="351.5" stroke="#151515" stroke-width="1.2"/>
<rect x="457.40" y="354.60" width="28.90" height="83.80" fill="#050505"/>
<line x1="527.5" y1="385.4" x2="527.5" y2="386.6" stroke="#151515" stroke-width="1.1"/>
<line x1="520.8" y1="385.5" x2="534.8" y2="385.5" stroke="#151515" stroke-width="1.2"/>
<rect x="513.20" y="386.60" width="29.20" height="51.80" fill="#050505"/>
<path d="M471.5,344.9 V338.5 H529.5 V378.9" stroke="#151515" stroke-width="1.2" fill="none"/>
<text x="500.7" y="337.0" font-size="9" font-weight="bold" text-anchor="middle" fill="#111" stroke="#111" stroke-width="0.3">***</text>
<text x="476.0" y="459.0" font-size="11.3" text-anchor="middle" fill="#111" stroke="#111" stroke-width="0.28">VEC</text>
<text x="529.7" y="459.0" font-size="11.3" text-anchor="middle" fill="#111" stroke="#111" stroke-width="0.28">PCK1</text>
<line x1="451.7" y1="464.5" x2="550.8" y2="464.5" stroke="#1a1a1a" stroke-width="1.3"/>
<text x="500.8" y="479.5" font-size="11.4" text-anchor="middle" fill="#111" stroke="#111" stroke-width="0.28">Glucose (0.1 mM, 5 h)</text>
<text transform="translate(425.5,384.0) rotate(-90)" x="0" y="0" font-size="10.9" text-anchor="middle" fill="#111" stroke="#111" stroke-width="0.28">The ratio of GSH/GSSG</text>
<text x="4.4" y="513.8" font-size="13.5" font-weight="bold" fill="#111" stroke="#111" stroke-width="0.3">g</text>
<text x="116.3" y="520.6" font-size="11.2" font-weight="bold" text-anchor="middle" fill="#111" stroke="#111" stroke-width="0.3">Citrate</text>
<line x1="66.5" y1="542.4" x2="66.5" y2="646.1" stroke="#151515" stroke-width="1.35"/>
<line x1="63.7" y1="646.1" x2="66.5" y2="646.1" stroke="#151515" stroke-width="1.35"/>
<text x="62.0" y="649.59" font-size="9.7" text-anchor="end" fill="#111" stroke="#111" stroke-width="0.28">0</text>
<line x1="63.7" y1="625.36" x2="66.5" y2="625.36" stroke="#151515" stroke-width="1.35"/>
<text x="62.0" y="628.85" font-size="9.7" text-anchor="end" fill="#111" stroke="#111" stroke-width="0.28">5</text>
<line x1="63.7" y1="604.62" x2="66.5" y2="604.62" stroke="#151515" stroke-width="1.35"/>
<text x="62.0" y="608.11" font-size="9.7" text-anchor="end" fill="#111" stroke="#111" stroke-width="0.28">10</text>
<line x1="63.7" y1="583.88" x2="66.5" y2="583.88" stroke="#151515" stroke-width="1.35"/>
<text x="62.0" y="587.37" font-size="9.7" text-anchor="end" fill="#111" stroke="#111" stroke-width="0.28">15</text>
<line x1="63.7" y1="563.14" x2="66.5" y2="563.14" stroke="#151515" stroke-width="1.35"/>
<text x="62.0" y="566.63" font-size="9.7" text-anchor="end" fill="#111" stroke="#111" stroke-width="0.28">20</text>
<line x1="63.7" y1="542.4" x2="66.5" y2="542.4" stroke="#151515" stroke-width="1.35"/>
<text x="62.0" y="545.89" font-size="9.7" text-anchor="end" fill="#111" stroke="#111" stroke-width="0.28">25</text>
<line x1="66.6" y1="646.5" x2="168.3" y2="646.5" stroke="#151515" stroke-width="1.35"/>
<line x1="91.9" y1="646.5" x2="91.9" y2="649.5" stroke="#151515" stroke-width="1.35"/>
<line x1="141.5" y1="646.5" x2="141.5" y2="649.5" stroke="#151515" stroke-width="1.35"/>
<line x1="83.5" y1="617.4" x2="83.5" y2="617.9" stroke="#151515" stroke-width="1.1"/>
<line x1="79.8" y1="617.5" x2="86.3" y2="617.5" stroke="#151515" stroke-width="1.2"/>
<rect x="76.30" y="617.90" width="13.50" height="28.20" fill="#050505"/>
<line x1="102.5" y1="627.6" x2="102.5" y2="628.9" stroke="#151515" stroke-width="1.1"/>
<line x1="98.75" y1="627.5" x2="105.25" y2="627.5" stroke="#151515" stroke-width="1.2"/>
<rect x="95.70" y="629.40" width="12.60" height="16.20" fill="#ff0000" stroke="#260000" stroke-width="1.0"/>
<line x1="134.5" y1="559.5" x2="134.5" y2="562.7" stroke="#151515" stroke-width="1.1"/>
<line x1="131.6" y1="559.5" x2="138.1" y2="559.5" stroke="#151515" stroke-width="1.2"/>
<rect x="128.50" y="562.70" width="12.70" height="83.40" fill="#050505"/>
<line x1="154.5" y1="595.2" x2="154.5" y2="596.2" stroke="#151515" stroke-width="1.1"/>
<line x1="151.35" y1="595.5" x2="157.85" y2="595.5" stroke="#151515" stroke-width="1.2"/>
<rect x="148.70" y="596.70" width="11.80" height="48.90" fill="#ff0000" stroke="#260000" stroke-width="1.0"/>
<path d="M81.5,613.2 V607.5 H101.5 V624.5" stroke="#151515" stroke-width="1.2" fill="none"/>
<path d="M136.5,557.3 V549.5 H155.5 V589.2" stroke="#151515" stroke-width="1.2" fill="none"/>
<text x="72.7" y="603.0" font-size="8.9" fill="#111" stroke="#111" stroke-width="0.08">p &lt; 0.0001</text>
<text x="126.9" y="545.7" font-size="8.9" fill="#111" stroke="#111" stroke-width="0.08">p &lt; 0.0001</text>
<text x="92.9" y="661.0" font-size="11.3" text-anchor="middle" fill="#111" stroke="#111" stroke-width="0.28">0.1</text>
<text x="145.8" y="661.0" font-size="11.3" text-anchor="middle" fill="#111" stroke="#111" stroke-width="0.28">25</text>
<line x1="75.8" y1="666.5" x2="160.8" y2="666.5" stroke="#1a1a1a" stroke-width="1.3"/>
<text x="121.3" y="682.0" font-size="11.3" text-anchor="middle" fill="#111" stroke="#111" stroke-width="0.28">Glucose (mM, 5 h)</text>
<text transform="translate(46.0,593.5) rotate(-90)" x="0" y="0" font-size="11.3" text-anchor="middle" fill="#111" stroke="#111" stroke-width="0.28">Relative abundance</text>
<text x="298.4" y="519.2" font-size="11.2" font-weight="bold" text-anchor="middle" fill="#111" stroke="#111" stroke-width="0.3">Fumarate</text>
<line x1="241.5" y1="540.8" x2="241.5" y2="644.6" stroke="#151515" stroke-width="1.35"/>
<line x1="238.7" y1="644.6" x2="241.5" y2="644.6" stroke="#151515" stroke-width="1.35"/>
<text x="237.8" y="648.09" font-size="9.7" text-anchor="end" fill="#111" stroke="#111" stroke-width="0.28">0</text>
<line x1="238.7" y1="618.65" x2="241.5" y2="618.65" stroke="#151515" stroke-width="1.35"/>
<text x="237.8" y="622.14" font-size="9.7" text-anchor="end" fill="#111" stroke="#111" stroke-width="0.28">5</text>
<line x1="238.7" y1="592.7" x2="241.5" y2="592.7" stroke="#151515" stroke-width="1.35"/>
<text x="237.8" y="596.19" font-size="9.7" text-anchor="end" fill="#111" stroke="#111" stroke-width="0.28">10</text>
<line x1="238.7" y1="566.75" x2="241.5" y2="566.75" stroke="#151515" stroke-width="1.35"/>
<text x="237.8" y="570.24" font-size="9.7" text-anchor="end" fill="#111" stroke="#111" stroke-width="0.28">15</text>
<line x1="238.7" y1="540.8" x2="241.5" y2="540.8" stroke="#151515" stroke-width="1.35"/>
<text x="237.8" y="544.29" font-size="9.7" text-anchor="end" fill="#111" stroke="#111" stroke-width="0.28">20</text>
<line x1="241.5" y1="644.5" x2="345.8" y2="644.5" stroke="#151515" stroke-width="1.35"/>
<line x1="268.0" y1="644.5" x2="268.0" y2="647.5" stroke="#151515" stroke-width="1.35"/>
<line x1="319.5" y1="644.5" x2="319.5" y2="647.5" stroke="#151515" stroke-width="1.35"/>
<line x1="258.5" y1="557.3" x2="258.5" y2="563.7" stroke="#151515" stroke-width="1.1"/>
<line x1="254.64999999999995" y1="557.5" x2="261.44999999999993" y2="557.5" stroke="#151515" stroke-width="1.2"/>
<rect x="251.20" y="563.70" width="13.70" height="80.90" fill="#050505"/>
<line x1="277.5" y1="597.3" x2="277.5" y2="601.4" stroke="#151515" stroke-width="1.1"/>
<line x1="274.3" y1="597.5" x2="281.09999999999997" y2="597.5" stroke="#151515" stroke-width="1.2"/>
<rect x="271.50" y="601.90" width="12.40" height="42.20" fill="#ff0000" stroke="#260000" stroke-width="1.0"/>
<line x1="310.5" y1="564.3" x2="310.5" y2="572.2" stroke="#151515" stroke-width="1.1"/>
<line x1="306.95" y1="564.5" x2="313.45" y2="564.5" stroke="#151515" stroke-width="1.2"/>
<rect x="303.40" y="572.20" width="13.60" height="72.40" fill="#050505"/>
<line x1="330.5" y1="621.0" x2="330.5" y2="621.6" stroke="#151515" stroke-width="1.1"/>
<line x1="326.75" y1="621.5" x2="333.25" y2="621.5" stroke="#151515" stroke-width="1.2"/>
<rect x="323.70" y="622.10" width="12.60" height="22.00" fill="#ff0000" stroke="#260000" stroke-width="1.0"/>
<path d="M257.5,551.6 V546.5 H276.5 V586.7" stroke="#151515" stroke-width="1.2" fill="none"/>
<path d="M310.5,560.4 V555.5 H329.5 V608.3" stroke="#151515" stroke-width="1.2" fill="none"/>
<text x="248.9" y="541.4" font-size="8.9" fill="#111" stroke="#111" stroke-width="0.08">p &lt; 0.0001</text>
<text x="301.0" y="552.0" font-size="8.9" fill="#111" stroke="#111" stroke-width="0.08">p &lt; 0.001</text>
<text x="268.0" y="659.9" font-size="11.3" text-anchor="middle" fill="#111" stroke="#111" stroke-width="0.28">0.1</text>
<text x="318.2" y="659.9" font-size="11.3" text-anchor="middle" fill="#111" stroke="#111" stroke-width="0.28">25</text>
<line x1="251.0" y1="665.5" x2="333.1" y2="665.5" stroke="#1a1a1a" stroke-width="1.3"/>
<text x="295.5" y="682.0" font-size="11.3" text-anchor="middle" fill="#111" stroke="#111" stroke-width="0.28">Glucose (mM, 5 h)</text>
<text transform="translate(220.8,595.2) rotate(-90)" x="0" y="0" font-size="11.3" text-anchor="middle" fill="#111" stroke="#111" stroke-width="0.28">Relative abundance</text>
<text x="467.8" y="519.1" font-size="11.2" font-weight="bold" text-anchor="middle" fill="#111" stroke="#111" stroke-width="0.3">Malate</text>
<line x1="413.5" y1="538.6" x2="413.5" y2="642.2" stroke="#151515" stroke-width="1.35"/>
<line x1="410.7" y1="642.2" x2="413.5" y2="642.2" stroke="#151515" stroke-width="1.35"/>
<text x="409.6" y="645.69" font-size="9.7" text-anchor="end" fill="#111" stroke="#111" stroke-width="0.28">0</text>
<line x1="410.7" y1="616.3000000000001" x2="413.5" y2="616.3000000000001" stroke="#151515" stroke-width="1.35"/>
<text x="409.6" y="619.79" font-size="9.7" text-anchor="end" fill="#111" stroke="#111" stroke-width="0.28">5</text>
<line x1="410.7" y1="590.4000000000001" x2="413.5" y2="590.4000000000001" stroke="#151515" stroke-width="1.35"/>
<text x="409.6" y="593.89" font-size="9.7" text-anchor="end" fill="#111" stroke="#111" stroke-width="0.28">10</text>
<line x1="410.7" y1="564.5" x2="413.5" y2="564.5" stroke="#151515" stroke-width="1.35"/>
<text x="409.6" y="567.99" font-size="9.7" text-anchor="end" fill="#111" stroke="#111" stroke-width="0.28">15</text>
<line x1="410.7" y1="538.6" x2="413.5" y2="538.6" stroke="#151515" stroke-width="1.35"/>
<text x="409.6" y="542.09" font-size="9.7" text-anchor="end" fill="#111" stroke="#111" stroke-width="0.28">20</text>
<line x1="413.2" y1="642.5" x2="517.4" y2="642.5" stroke="#151515" stroke-width="1.35"/>
<line x1="438.9" y1="642.5" x2="438.9" y2="645.5" stroke="#151515" stroke-width="1.35"/>
<line x1="491.0" y1="642.5" x2="491.0" y2="645.5" stroke="#151515" stroke-width="1.35"/>
<line x1="429.5" y1="562.7" x2="429.5" y2="568.1" stroke="#151515" stroke-width="1.1"/>
<line x1="426.25" y1="562.5" x2="432.95000000000005" y2="562.5" stroke="#151515" stroke-width="1.2"/>
<rect x="423.10" y="568.10" width="13.00" height="74.10" fill="#050505"/>
<line x1="448.5" y1="614.6" x2="448.5" y2="616.3" stroke="#151515" stroke-width="1.1"/>
<line x1="445.70000000000005" y1="614.5" x2="452.20000000000005" y2="614.5" stroke="#151515" stroke-width="1.2"/>
<rect x="442.80" y="616.80" width="12.30" height="24.90" fill="#ff0000" stroke="#260000" stroke-width="1.0"/>
<line x1="481.5" y1="581.2" x2="481.5" y2="586.4" stroke="#151515" stroke-width="1.1"/>
<line x1="478.35" y1="581.5" x2="484.85" y2="581.5" stroke="#151515" stroke-width="1.2"/>
<rect x="475.00" y="586.40" width="13.20" height="55.80" fill="#050505"/>
<line x1="500.5" y1="607.8" x2="500.5" y2="611.7" stroke="#151515" stroke-width="1.1"/>
<line x1="497.5" y1="607.5" x2="504.0" y2="607.5" stroke="#151515" stroke-width="1.2"/>
<rect x="494.60" y="612.20" width="12.30" height="29.50" fill="#ff0000" stroke="#260000" stroke-width="1.0"/>
<path d="M429.5,557.4 V552.5 H448.5 V605.8" stroke="#151515" stroke-width="1.2" fill="none"/>
<path d="M481.5,579.6 V572.5 H501.5 V605.5" stroke="#151515" stroke-width="1.2" fill="none"/>
<text x="420.5" y="548.7" font-size="8.9" fill="#111" stroke="#111" stroke-width="0.08">p &lt; 0.0001</text>
<text x="472.8" y="568.5" font-size="8.9" fill="#111" stroke="#111" stroke-width="0.08">p &lt; 0.0001</text>
<text x="441.2" y="659.3" font-size="11.3" text-anchor="middle" fill="#111" stroke="#111" stroke-width="0.28">0.1</text>
<text x="491.9" y="659.3" font-size="11.3" text-anchor="middle" fill="#111" stroke="#111" stroke-width="0.28">25</text>
<line x1="425.3" y1="665.5" x2="509.7" y2="665.5" stroke="#1a1a1a" stroke-width="1.3"/>
<text x="465.7" y="682.4" font-size="11.3" text-anchor="middle" fill="#111" stroke="#111" stroke-width="0.28">Glucose (mM, 5 h)</text>
<text transform="translate(392.4,595.2) rotate(-90)" x="0" y="0" font-size="11.3" text-anchor="middle" fill="#111" stroke="#111" stroke-width="0.28">Relative abundance</text>
<rect x="524.10" y="520.20" width="11.50" height="6.80" fill="#050505"/>
<rect x="524.60" y="532.90" width="10.50" height="5.30" fill="#ff0000" stroke="#260000" stroke-width="1.0"/>
<text x="540.7" y="526.6" font-size="9" fill="#111" stroke="#111" stroke-width="0.28">VEC</text>
<text x="540.7" y="539.6" font-size="9" fill="#111" stroke="#111" stroke-width="0.28">PCK1</text>
</svg></body></html>
